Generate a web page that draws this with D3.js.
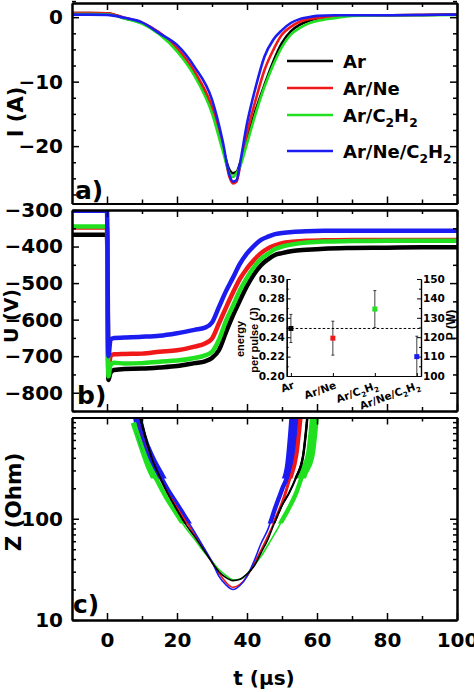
<!DOCTYPE html>
<html>
<head>
<meta charset="UTF-8">
<style>
  body { margin: 0; background: #fff; }
  svg text { font-family: "DejaVu Sans", sans-serif; font-weight: bold; fill: #000; }
  .axis .domain { stroke: #000; stroke-width: 2; }
  .axis line { stroke: #000; stroke-width: 1.5; }
  .inset .domain { stroke: #000; stroke-width: 1.2; }
  .inset line { stroke: #000; stroke-width: 1; }
</style>
<script src="https://d3js.org/d3.v7.min.js"></script>
</head>
<body>
<svg id="chart" width="474" height="692"></svg>
<script>
// ---- values ----
var gases = ["Ar", "Ar/Ne", "Ar/C2H2", "Ar/Ne/C2H2"];
var colors = ["#000000", "#f01818", "#20e020", "#1c1cf0"];

// a) current I (A)
var tI = [-10, -5, 0, 5, 10, 15, 20, 25, 30, 33, 35, 36, 37, 38, 40, 42.5, 45, 47.5, 50, 52.5, 55, 57.5, 60, 65, 70, 80, 90, 100];
var iAr      = [0.65, 0.65, 0.6, -0.15, -0.9, -2.5, -5.1, -8.7, -14.4, -20.1, -23.7, -24.2, -24.0, -22.7, -19.0, -14.4, -10.5, -6.9, -4.0, -2.2, -1.2, -0.6, -0.2, 0.1, 0.3, 0.3, 0.35, 0.4];
var iArNe    = [0.65, 0.65, 0.6, -0.1, -0.85, -2.4, -4.8, -8.4, -13.9, -19.6, -24.8, -25.8, -25.5, -23.2, -18.0, -12.8, -8.2, -5.1, -2.7, -1.5, -0.7, -0.3, -0.15, 0.1, 0.3, 0.3, 0.35, 0.4];
var iArC2H2  = [0.5, 0.5, 0.45, -0.2, -1.0, -2.7, -5.3, -9.1, -14.9, -20.6, -24.2, -24.8, -24.2, -23.2, -19.6, -14.9, -10.8, -7.4, -4.6, -2.7, -1.7, -1.0, -0.6, -0.15, 0.2, 0.3, 0.3, 0.35];
var iArNeC2H2 = [0.4, 0.4, 0.36, -0.1, -0.8, -2.5, -4.3, -7.7, -12.8, -19.1, -24.5, -25.5, -25.3, -22.7, -16.5, -10.8, -6.1, -3.5, -2.0, -0.9, -0.3, 0.0, 0.2, 0.3, 0.3, 0.3, 0.35, 0.4];

// b) voltage U (V)
var tU = [-10, 0, 0.4, 1, 2, 5, 10, 15, 20, 25, 28, 30, 32, 34, 36, 38, 40, 42, 44, 46, 48, 50, 53, 57, 62, 70, 80, 90, 100];
var uAr       = [-368, -368, -765, -745, -738, -735, -734, -731, -727, -719, -714, -705, -683, -634, -588, -547, -508, -476, -451, -435, -423, -418, -412, -409, -406, -404, -403, -402, -402];
var uArNe     = [-348, -348, -740, -700, -695, -694, -693, -688, -684, -674, -665, -652, -610, -567, -526, -488, -460, -437, -418, -405, -397, -391, -387, -384, -383, -382, -382, -382, -382];
var uArC2H2   = [-345, -345, -755, -725, -718, -720, -719, -715, -712, -705, -698, -688, -655, -603, -562, -519, -485, -456, -434, -420, -407, -400, -394, -389, -386, -385, -384, -384, -384];
var uArNeC2H2 = [-302, -302, -700, -655, -650, -649, -647, -644, -637, -628, -622, -608, -565, -522, -485, -447, -419, -398, -382, -373, -366, -363, -360, -358, -357, -357, -357, -357, -357];

// c) impedance Z (Ohm)
var tZ = [8, 10, 12.5, 15, 17.5, 20, 22.5, 25, 27.5, 30, 32, 34, 36, 38, 40, 42, 44, 46, 48, 50, 52, 54, 56, 58, 60];
var zAr       = [1500, 850, 420, 265, 175, 123, 88, 67, 50, 37, 30, 26.2, 24.5, 25.3, 28.4, 34, 46, 63, 94, 136, 179, 255, 412, 2000, null];
var zArNe     = [1300, 650, 410, 265, 180, 130, 95, 70, 52, 37, 29, 23.5, 21, 22.5, 27, 36, 49, 68, 97, 142, 235, 430, 2000, null, null];
var zArC2H2   = [900, 560, 320, 215, 150, 110, 81, 63, 48, 38, 31.5, 27.5, 25, 25.3, 28.5, 34.5, 42.5, 55, 72, 96, 128, 178, 280, 415, 2000];
var zArNeC2H2 = [1300, 650, 395, 272, 190, 140, 102, 74, 53, 37.7, 27, 22.2, 20, 21.9, 27, 38, 57, 79, 126, 195, 310, 2000, null, null, null];

// inset: energy per pulse (J)
var insetCats = [1, 2, 3, 4];
var energy    = [0.249, 0.239, 0.269, 0.220];
var energyErr = [0.0145, 0.0175, 0.019, 0.021];
var energyRef = 0.249;

var seriesI = [iAr, iArNe, iArC2H2, iArNeC2H2];
var seriesU = [uAr, uArNe, uArC2H2, uArNeC2H2];
var seriesZ = [zAr, zArNe, zArC2H2, zArNeC2H2];

// ---- layout ----
var svg = d3.select("#chart");
var x0 = 72, x1 = 457;
var pA = [3, 203.5], pB = [210, 411], pC = [417.5, 620];

var x = d3.scaleLinear().domain([-10, 100]).range([x0, x1]);
var yI = d3.scaleLinear().domain([-28.9, 2.2]).range([pA[1], pA[0]]);
var yU = d3.scaleLinear().domain([-850, -300]).range([pB[1], pB[0]]);
var yZ = d3.scaleLog().domain([10, 1000]).range([pC[1], pC[0]]);

var xMajor = [0, 20, 40, 60, 80, 100], xMinor = [10, 30, 50, 70, 90];

function noText() { return ""; }

function styleText(g, size) {
  g.attr("font-family", null).attr("font-size", null);
  g.selectAll("text").style("font-size", size + "px");
}

function frame(y, top, bottom, yMajor, yMinor, yFmt, xLabels) {
  var g = svg.append("g").attr("class", "axis");
  var L = g.append("g").attr("transform", "translate(" + x0 + ",0)")
    .call(d3.axisLeft(y).tickValues(yMajor).tickSizeInner(-7).tickSizeOuter(0).tickPadding(9).tickFormat(yFmt));
  styleText(L, 20);
  g.append("g").attr("transform", "translate(" + x0 + ",0)")
    .call(d3.axisLeft(y).tickValues(yMinor).tickSizeInner(-4).tickSizeOuter(0).tickFormat(noText));
  g.append("g").attr("transform", "translate(" + x1 + ",0)")
    .call(d3.axisRight(y).tickValues(yMajor).tickSizeInner(-7).tickSizeOuter(0).tickFormat(noText));
  g.append("g").attr("transform", "translate(" + x1 + ",0)")
    .call(d3.axisRight(y).tickValues(yMinor).tickSizeInner(-4).tickSizeOuter(0).tickFormat(noText));
  var B = g.append("g").attr("transform", "translate(0," + bottom + ")")
    .call(d3.axisBottom(x).tickValues(xMajor).tickSizeInner(-7).tickSizeOuter(0).tickPadding(13)
      .tickFormat(xLabels ? d3.format("d") : noText));
  styleText(B, 20);
  g.append("g").attr("transform", "translate(0," + bottom + ")")
    .call(d3.axisBottom(x).tickValues(xMinor).tickSizeInner(-4).tickSizeOuter(0).tickFormat(noText));
  g.append("g").attr("transform", "translate(0," + top + ")")
    .call(d3.axisTop(x).tickValues(xMajor).tickSizeInner(-7).tickSizeOuter(0).tickFormat(noText));
  g.append("g").attr("transform", "translate(0," + top + ")")
    .call(d3.axisTop(x).tickValues(xMinor).tickSizeInner(-4).tickSizeOuter(0).tickFormat(noText));
}

function clipRect(id, x, y, w, h) {
  svg.append("clipPath").attr("id", id).append("rect")
    .attr("x", x).attr("y", y).attr("width", w).attr("height", h);
}

clipRect("clipA", x0, pA[0], x1 - x0, pA[1] - pA[0]);
clipRect("clipB", x0, pB[0], x1 - x0, pB[1] - pB[0]);
clipRect("clipC", x0, pC[0], x1 - x0, pC[1] - pC[0]);
clipRect("clipCtop", x0, pC[0], x1 - x0, yZ(250) - pC[0]);
clipRect("clipCmid", x0, pC[0], x1 - x0, yZ(90) - pC[0]);

// a) current
var lineI = d3.line().x(function (d, i) { return x(tI[i]); }).y(function (d) { return yI(d); }).curve(d3.curveMonotoneX);
var gA = svg.append("g").attr("clip-path", "url(#clipA)");
seriesI.forEach(function (s, k) {
  gA.append("path").datum(s).attr("d", lineI).attr("fill", "none")
    .attr("stroke", colors[k]).attr("stroke-width", 2.6);
});

// b) voltage
var lineU = d3.line().x(function (d, i) { return x(tU[i]); }).y(function (d) { return yU(d); }).curve(d3.curveMonotoneX);
var gB = svg.append("g").attr("clip-path", "url(#clipB)");
seriesU.forEach(function (s, k) {
  gB.append("path").datum(s).attr("d", lineU).attr("fill", "none")
    .attr("stroke", colors[k]).attr("stroke-width", 4.5);
});

// c) impedance (noisy, thicker at high Z); green under, black thin on top
var lineZ = d3.line().defined(function (d) { return d != null; })
  .x(function (d, i) { return x(tZ[i]); }).y(function (d) { return yZ(d); }).curve(d3.curveMonotoneX);
var zWidths = [[1.6, 2, 2.5], [1.6, 3, 5], [1.6, 4.5, 9], [1.6, 4.5, 9]];
var zOrder = [2, 1, 3, 0];
var gC = svg.append("g");
[["clipCtop", 2], ["clipCmid", 1], ["clipC", 0]].forEach(function (layer) {
  var gl = gC.append("g").attr("clip-path", "url(#" + layer[0] + ")");
  zOrder.forEach(function (k) {
    gl.append("path").datum(seriesZ[k]).attr("d", lineZ).attr("fill", "none")
      .attr("stroke", colors[k]).attr("stroke-width", zWidths[k][layer[1]]);
  });
});

// frames
frame(yI, pA[0], pA[1], [0, -10, -20], [2.5, -2.5, -5, -7.5, -12.5, -15, -17.5, -22.5, -25, -27.5], d3.format("d"), false);
frame(yU, pB[0], pB[1], [-300, -400, -500, -600, -700, -800], [-350, -450, -550, -650, -750, -850], d3.format("d"), false);
frame(yZ, pC[0], pC[1], [10, 100, 1000], [20, 30, 40, 50, 60, 70, 80, 90, 200, 300, 400, 500, 600, 700, 800, 900],
  function (d) { return d === 1000 ? "" : d3.format("d")(d); }, true);

// text with numeric subscripts (C2H2)
function richText(t, s, fs) {
  var down = false;
  s.split(/(\d)/).filter(function (p) { return p !== ""; }).forEach(function (p) {
    var ts = t.append("tspan").text(p);
    if (/\d/.test(p)) {
      ts.style("font-size", (fs * 0.68) + "px");
      if (!down) ts.attr("dy", fs * 0.32);
      down = true;
    } else if (down) {
      ts.attr("dy", -fs * 0.32);
      down = false;
    }
  });
}

// legend
var legY = [61, 88, 115, 151];
var leg = svg.append("g");
gases.forEach(function (name, k) {
  leg.append("line").attr("x1", 287).attr("x2", 333).attr("y1", legY[k]).attr("y2", legY[k])
    .attr("stroke", colors[k]).attr("stroke-width", 2.6);
  var t = leg.append("text").attr("x", 343).attr("y", legY[k] + 6.5).style("font-size", "18px");
  richText(t, name, 18);
});

// panel letters
[["a)", 75, 199], ["b)", 77, 404], ["c)", 73, 613]].forEach(function (p) {
  svg.append("text").attr("x", p[1]).attr("y", p[2]).style("font-size", "25px").text(p[0]);
});

// axis titles
function vTitle(txt, xx, yy, fs) {
  svg.append("text").attr("transform", "translate(" + xx + "," + yy + ") rotate(-90)")
    .attr("text-anchor", "middle").style("font-size", fs + "px").text(txt);
}
vTitle("I (A)", 23, 112, 21);
vTitle("U (V)", 17.5, 316, 19);
vTitle("Z (Ohm)", 21, 502, 21.5);
svg.append("text").attr("x", 264).attr("y", 685).attr("text-anchor", "middle")
  .style("font-size", "20px").text("t (\u00b5s)");

// ---- inset ----
var ix = d3.scaleLinear().domain([0.9, 4.1]).range([286.7, 421]);
var iy = d3.scaleLinear().domain([0.20, 0.30]).range([376, 279]);
var iyP = d3.scaleLinear().domain([100, 150]).range([376, 279]);

clipRect("clipIn", 286.7, 279, 421 - 286.7, 376 - 279);
var ins = svg.append("g").attr("class", "inset");

var IL = ins.append("g").attr("transform", "translate(286.7,0)")
  .call(d3.axisLeft(iy).tickValues(d3.range(0.20, 0.3001, 0.02)).tickSizeInner(-4).tickSizeOuter(0).tickPadding(2).tickFormat(d3.format(".2f")));
styleText(IL, 10.5);
ins.append("g").attr("transform", "translate(286.7,0)")
  .call(d3.axisLeft(iy).tickValues(d3.range(0.21, 0.30, 0.02)).tickSizeInner(-2).tickSizeOuter(0).tickFormat(noText));
var IR = ins.append("g").attr("transform", "translate(421,0)")
  .call(d3.axisRight(iyP).tickValues(d3.range(100, 151, 10)).tickSizeInner(-4).tickSizeOuter(0).tickPadding(2).tickFormat(d3.format("d")));
styleText(IR, 10.5);
ins.append("g").attr("transform", "translate(421,0)")
  .call(d3.axisRight(iyP).tickValues(d3.range(105, 150, 10)).tickSizeInner(-2).tickSizeOuter(0).tickFormat(noText));
ins.append("g").attr("transform", "translate(0,376)")
  .call(d3.axisBottom(ix).tickValues(insetCats).tickSizeInner(-3).tickSizeOuter(0).tickFormat(noText));

gases.forEach(function (name, k) {
  var t = ins.append("text")
    .attr("transform", "translate(" + (ix(insetCats[k]) + 4) + ",388) rotate(-20)")
    .attr("text-anchor", "end").style("font-size", "10.5px");
  richText(t, name, 10.5);
});

ins.append("line").attr("x1", 286.7).attr("x2", 421).attr("y1", iy(energyRef)).attr("y2", iy(energyRef))
  .attr("stroke", "#000").attr("stroke-width", 1.3).attr("stroke-dasharray", "2.5,2");

var pts = ins.append("g").attr("clip-path", "url(#clipIn)");
insetCats.forEach(function (c, k) {
  var cx = ix(c);
  pts.append("line").attr("x1", cx).attr("x2", cx)
    .attr("y1", iy(energy[k] - energyErr[k])).attr("y2", iy(energy[k] + energyErr[k]))
    .attr("stroke", colors[k]).attr("stroke-opacity", 0.75).attr("stroke-width", 1);
  [-1, 1].forEach(function (sgn) {
    pts.append("line").attr("x1", cx - 1.5).attr("x2", cx + 1.5)
      .attr("y1", iy(energy[k] + sgn * energyErr[k])).attr("y2", iy(energy[k] + sgn * energyErr[k]))
      .attr("stroke", colors[k]).attr("stroke-opacity", 0.75).attr("stroke-width", 1);
  });
  pts.append("rect").attr("x", cx - 2.5).attr("y", iy(energy[k]) - 2.5).attr("width", 5).attr("height", 5)
    .attr("fill", colors[k]);
});

function insetTitle(txt, xx, yy, fs) {
  svg.append("text").attr("transform", "translate(" + xx + "," + yy + ") rotate(-90)")
    .attr("text-anchor", "middle").style("font-size", fs + "px")
    .style("font-family", "'Liberation Sans', Arial, sans-serif").text(txt);
}
insetTitle("energy", 244, 339, 11);
insetTitle("per pulse (J)", 258, 340, 11);
insetTitle("P (W)", 455, 325, 12);
</script>
</body>
</html>
